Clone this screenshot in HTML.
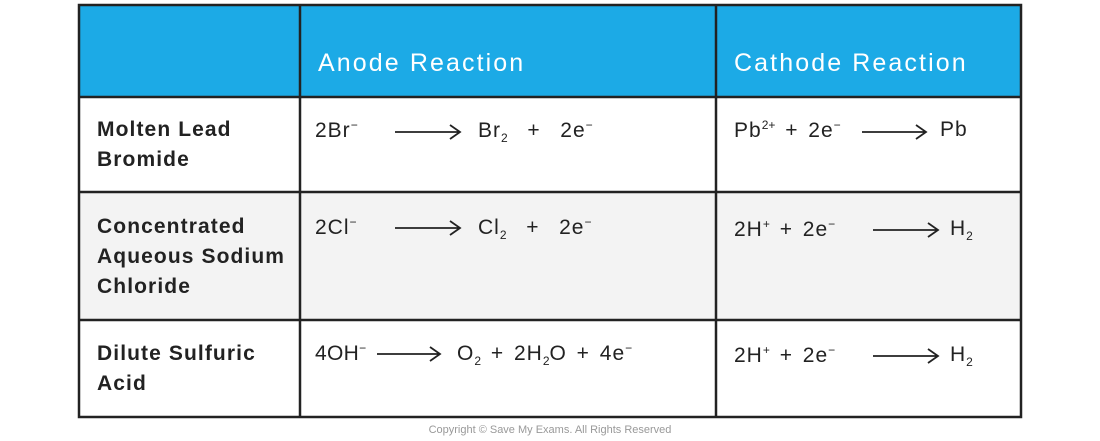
<!DOCTYPE html>
<html><head><meta charset="utf-8"><style>
body{margin:0;width:1100px;height:441px;background:#fff;position:relative;font-family:"Liberation Sans",sans-serif;overflow:hidden}
.a{position:absolute;white-space:nowrap}
.h{color:#fff;font-size:25px;letter-spacing:2.1px}
.l{font-weight:bold;font-size:21px;color:#222;line-height:30px;letter-spacing:1.1px}
.e{font-size:21px;color:#222;letter-spacing:1px;word-spacing:3px}
sub,sup{font-size:12px;letter-spacing:0}
</style></head><body>
<div class="a" style="left:79px;top:5px;width:942px;height:92px;background:#1caae6"></div>
<div class="a" style="left:79px;top:192px;width:942px;height:128px;background:#f3f3f3"></div>
<svg class="a" style="left:0;top:0" width="1100" height="441">
<g stroke="#222" stroke-width="2.5" fill="none">
<rect x="79" y="5" width="942" height="412"/>
<line x1="300" y1="5" x2="300" y2="417"/><line x1="716" y1="5" x2="716" y2="417"/>
<line x1="79" y1="97" x2="1021" y2="97"/><line x1="79" y1="192" x2="1021" y2="192"/><line x1="79" y1="320" x2="1021" y2="320"/>
</g>
<g stroke="#222" stroke-width="1.8" fill="none">
<path d="M395 132H459M450 125L460 132L450 139"/>
<path d="M862 132H925M916 125L926 132L916 139"/>
<path d="M395 228H459M450 221L460 228L450 235"/>
<path d="M873 230H937M928 223L938 230L928 237"/>
<path d="M377 354H439M430 347L440 354L430 361"/>
<path d="M873 356H937M928 349L938 356L928 363"/>
</g></svg>
<div class="a h" style="left:318px;top:49px">Anode Reaction</div>
<div class="a h" style="left:734px;top:49px">Cathode Reaction</div>
<div class="a l" style="left:97px;top:115px">Molten Lead<br>Bromide</div>
<div class="a l" style="left:97px;top:212px">Concentrated<br>Aqueous Sodium<br>Chloride</div>
<div class="a l" style="left:97px;top:339px">Dilute Sulfuric<br>Acid</div>
<div class="a e" style="left:315px;top:118px">2Br<sup>−</sup></div>
<div class="a e" style="left:478px;top:118px">Br<sub>2</sub> &nbsp;+ &nbsp;2e<sup>−</sup></div>
<div class="a e" style="left:734px;top:118px">Pb<sup>2+</sup> + 2e<sup>−</sup></div>
<div class="a e" style="left:940px;top:118px">Pb</div>
<div class="a e" style="left:315px;top:215px">2Cl<sup>−</sup></div>
<div class="a e" style="left:478px;top:215px">Cl<sub>2</sub> &nbsp;+ &nbsp;2e<sup>−</sup></div>
<div class="a e" style="left:734px;top:217px">2H<sup>+</sup> + 2e<sup>−</sup></div>
<div class="a e" style="left:950px;top:217px">H<sub>2</sub></div>
<div class="a e" style="left:315px;top:341px;letter-spacing:0.3px">4OH<sup>−</sup></div>
<div class="a e" style="left:457px;top:341px">O<sub>2</sub> + 2H<sub>2</sub>O + 4e<sup>−</sup></div>
<div class="a e" style="left:734px;top:343px">2H<sup>+</sup> + 2e<sup>−</sup></div>
<div class="a e" style="left:950px;top:343px">H<sub>2</sub></div>
<div class="a" style="left:0;width:1100px;text-align:center;top:424px;font-size:11px;color:#999">Copyright © Save My Exams. All Rights Reserved</div>
</body></html>
